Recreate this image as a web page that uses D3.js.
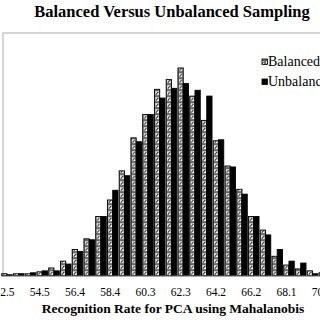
<!DOCTYPE html>
<html><head><meta charset="utf-8">
<script src="https://cdn.jsdelivr.net/npm/d3@7"></script>
<style>html,body{margin:0;padding:0;background:#fff;overflow:hidden}svg{display:block}</style>
</head><body>
<svg id="c" width="320" height="320"></svg>
<script>
const categories = ["52.5","53.2","53.8","54.5","55.1","55.8","56.4","57.1","57.7","58.4","59.0","59.7","60.3","61.0","61.6","62.3","62.9","63.6","64.2","64.9","65.5","66.2","66.8","67.5","68.1","68.8","69.4","70.1"];
const seriesNames = ["Balanced","Unbalanced"];
const balanced   = [2,2,2,4,8,15,27,38,61,78,108,142,166,192,202,214,185,160,139,113,89,61,47,20,11,7,5,3];
const unbalanced = [1,2,3,5,5,12,25,37,61,88,103,138,166,183,193,198,191,185,140,112,84,61,42,27,15,13,2,1];
const tickLabels = categories.filter((d,i)=>i%3===0);
const titleText = "Balanced Versus Unbalanced Sampling";
const xTitle = "Recognition Rate for PCA using Mahalanobis";

const svg = d3.select("#c");
const font = "'Liberation Serif','Times New Roman',serif";

const defs = svg.append("defs");
const pat = defs.append("pattern").attr("id","hatch").attr("patternUnits","userSpaceOnUse")
  .attr("width",5.3).attr("height",6);
pat.append("rect").attr("width",5.3).attr("height",6).attr("fill","#6a6a6a");
pat.append("rect").attr("x",1).attr("y",1.3).attr("width",3.4).attr("height",3.8).attr("fill","#fff");
pat.append("path").attr("d","M1.6,4.6 L3.8,1.9").attr("stroke","#222").attr("stroke-width",1);

const x = d3.scaleBand().domain(categories).range([1.1,330.1]).paddingInner(0.1).paddingOuter(0.05);
const xs = d3.scaleBand().domain(seriesNames).range([0,x.bandwidth()]);
const y = d3.scaleLinear().domain([0,250]).range([275.7,33]);

// frame
svg.append("path").attr("d","M3,"+y(0)+" V33 H320").attr("fill","none").attr("stroke","#c8c8c8").attr("stroke-width",1.5);

const data = categories.map((c,i)=>({c, vals:[{s:"Balanced",v:balanced[i]},{s:"Unbalanced",v:unbalanced[i]}]}));
const g = svg.append("g");
const grp = g.selectAll("g.grp").data(data).join("g").attr("class","grp").attr("transform",d=>`translate(${x(d.c)},0)`);
grp.selectAll("rect").data(d=>d.vals).join("rect")
  .attr("x",d=>xs(d.s)).attr("width",xs.bandwidth())
  .attr("y",d=>y(d.v)).attr("height",d=>y(0)-y(d.v))
  .attr("fill",d=>d.s==="Balanced"?"url(#hatch)":"#000")
  .attr("stroke","#000").attr("stroke-width",0.9);

// x axis
const ax = svg.append("g").attr("transform",`translate(0,${y(0)})`)
  .call(d3.axisBottom(x).tickValues(tickLabels).tickSize(0).tickPadding(12));
ax.select(".domain").attr("stroke","#999");
ax.selectAll("text").attr("font-family",font).attr("font-size",11.5).attr("fill","#000").attr("dx",-2.5);

// title
svg.append("text").attr("x",172).attr("y",17).attr("text-anchor","middle")
  .attr("font-family",font).attr("font-weight","bold").attr("font-size",16.5).text(titleText);
svg.append("text").attr("x",173).attr("y",313).attr("text-anchor","middle")
  .attr("font-family",font).attr("font-weight","bold").attr("font-size",13.5).text(xTitle);

// legend
const leg = svg.append("g");
seriesNames.forEach((s,i)=>{
  const ly = 66 + i*20;
  leg.append("rect").attr("x",262).attr("y",ly-7).attr("width",5.5).attr("height",5.5)
    .attr("fill",s==="Balanced"?"url(#hatch)":"#000").attr("stroke","#000").attr("stroke-width",0.8);
  leg.append("text").attr("x",268).attr("y",ly).attr("font-family",font).attr("font-size",14).text(s);
});
</script>
</body></html>
